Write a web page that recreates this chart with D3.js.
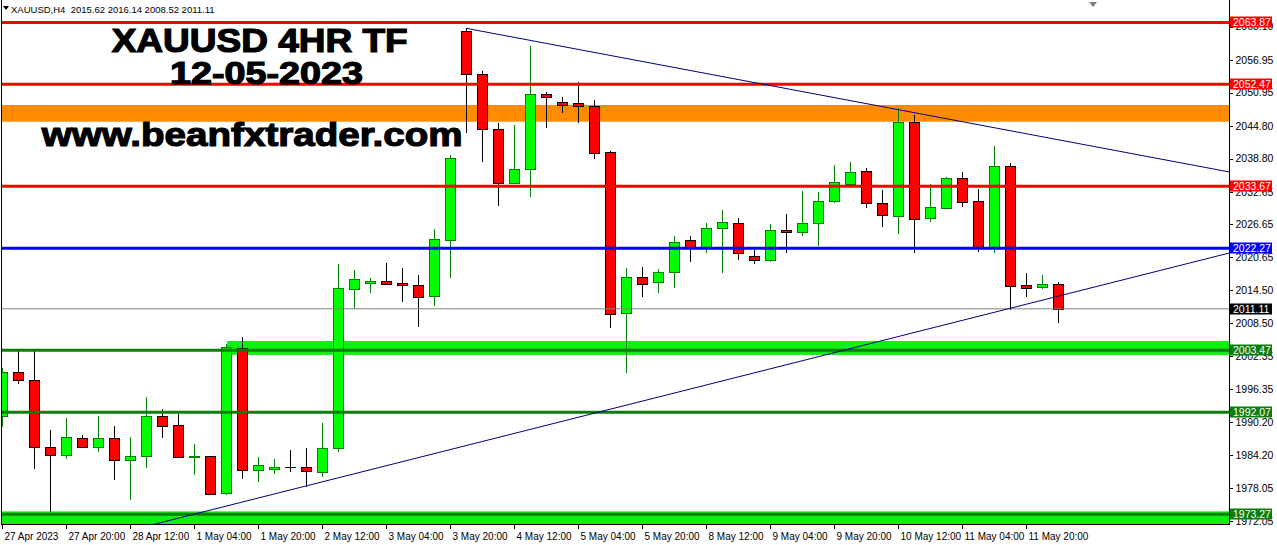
<!DOCTYPE html>
<html><head><meta charset="utf-8">
<script src="https://cdn.jsdelivr.net/npm/d3@7"></script>
<style>html,body{margin:0;padding:0;background:#fff;overflow:hidden}</style>
</head><body>
<svg id="c" width="1277" height="545"></svg>
<script>
// ---- data ----
const symbolHeader = "XAUUSD,H4  2015.62 2016.14 2008.52 2011.11";
const opens  = [1991.36,1999.41,1997.94,1985.59,1984.12,1987.25,1985.59,1987.25,1983.20,1983.94,
                1991.31,1989.65,1983.75,1983.94,1977.12,2003.83,1981.36,1981.54,1981.91,1981.91,
                1981.04,1985.46,2014.81,2015.92,2016.18,2015.86,2015.49,2013.52,2023.78,2062.29,
                2054.31,2044.18,2034.34,2036.81,2050.68,2049.21,2048.97,2048.47,2039.94,2010.28,
                2016.91,2015.99,2017.83,2023.73,2022.55,2025.94,2026.86,2020.78,2020.05,2025.57,
                2025.20,2026.86,2030.91,2034.05,2036.44,2030.55,2028.26,2045.47,2027.78,2029.63,
                2035.15,2030.91,2022.55,2037.36,2015.44,2015.07,2015.62];
const highs  = [2000.20,2003.34,2003.52,1988.78,1990.94,1987.86,1991.31,1989.46,1987.44,1994.81,
                1992.59,1991.67,1986.15,1983.99,2004.62,2005.91,1983.75,1983.38,1985.10,1985.46,
                1990.07,2019.36,2018.26,2016.73,2019.49,2018.63,2017.39,2025.81,2039.44,2062.79,
                2054.92,2045.28,2044.97,2059.53,2051.11,2050.18,2052.95,2049.58,2040.18,2018.57,
                2018.87,2018.44,2024.52,2024.58,2026.86,2029.31,2027.78,2021.94,2026.68,2028.57,
                2032.81,2032.57,2037.60,2038.15,2036.99,2033.00,2048.05,2046.81,2034.05,2035.34,
                2036.37,2033.18,2041.10,2038.03,2017.65,2017.34,2016.14];
const lows   = [1989.33,1997.20,1981.54,1973.73,1983.38,1985.41,1984.67,1979.52,1975.83,1981.73,
                1987.25,1983.57,1980.44,1976.94,1976.75,1979.70,1979.15,1980.62,1980.99,1978.23,
                1980.12,1984.73,2011.02,2013.97,2015.55,2012.42,2007.81,2011.68,2016.73,2043.44,
                2038.21,2030.10,2034.23,2031.76,2044.36,2047.24,2045.28,2038.65,2007.52,1999.23,
                2013.34,2013.97,2014.89,2019.79,2021.33,2017.65,2020.10,2019.36,2019.68,2021.33,
                2024.58,2022.73,2030.55,2033.92,2029.63,2026.12,2024.84,2021.33,2027.16,2029.63,
                2029.92,2021.63,2021.45,2010.89,2013.23,2014.76,2008.52];
const closes = [1999.41,1997.94,1985.59,1984.12,1987.44,1985.59,1987.25,1983.20,1983.94,1991.31,
                1989.46,1983.75,1983.94,1977.05,2004.07,1981.36,1982.28,1981.91,1981.91,1981.17,
                1985.41,2014.89,2016.55,2016.23,2015.73,2015.44,2013.34,2023.97,2038.84,2054.31,
                2044.18,2034.34,2036.81,2050.63,2050.18,2048.71,2048.42,2039.76,2010.10,2016.91,
                2015.62,2017.83,2023.47,2022.49,2025.94,2027.05,2021.33,2020.05,2025.57,2025.20,
                2026.86,2030.91,2034.41,2036.31,2030.55,2028.34,2045.47,2027.60,2029.81,2035.15,
                2030.84,2022.55,2037.36,2015.37,2014.89,2015.62,2011.11];

const xTickIdx    = [0,4,8,12,16,20,24,28,32,36,40,44,48,52,56,60,64];
const xTickLabels = ["27 Apr 2023","27 Apr 20:00","28 Apr 12:00","1 May 04:00","1 May 20:00",
                     "2 May 12:00","3 May 04:00","3 May 20:00","4 May 12:00","5 May 04:00",
                     "5 May 20:00","8 May 12:00","9 May 04:00","9 May 20:00","10 May 12:00",
                     "11 May 04:00","11 May 20:00"];
const yTickValues = [2063.10,2056.95,2050.95,2044.80,2038.80,2032.65,2026.65,2020.65,2014.50,
                     2008.50,2002.35,1996.35,1990.20,1984.20,1978.05,1972.05];

const redLevels   = [2063.87, 2052.47, 2033.67];
const blueLevels  = [2022.27];
const greenLevels = [2003.47, 1992.07, 1973.27];
const lastPrice   = 2011.11;
const orangeZone  = [2045.58, 2048.66];
const greenZones  = [{from:14, lo:2002.62, hi:2005.18}, {from:-1, lo:1971.40, hi:1973.80}];
const trendDown   = {i1:29, p1:2062.79, i2:56, p2:2047.81};
const trendUp     = {i1:20, p1:1979.22, i2:63, p2:2011.20};
const titleLines  = ["XAUUSD 4HR TF","12-05-2023","www.beanfxtrader.com"];

// ---- layout ----
const R = 1229, B = 524;
const x = d3.scaleLinear().domain([-0.125, 76.6875]).range([0, R]);
const y = d3.scaleLinear().domain([1971.47, 2068.0]).range([B, 0]);
const svg = d3.select('#c');
const FONT = "'Liberation Sans', Arial, sans-serif";

svg.append('defs').append('clipPath').attr('id','clip')
  .append('rect').attr('x',1).attr('y',0).attr('width',R-1).attr('height',B);

const plot = svg.append('g').attr('clip-path','url(#clip)');

// zones (behind candles)
plot.append('rect').attr('x',x(-1)).attr('width',R-x(-1)+2)
  .attr('y',y(orangeZone[1])).attr('height',y(orangeZone[0])-y(orangeZone[1]))
  .attr('fill','#ff8c00');
plot.selectAll('rect.gz').data(greenZones).join('rect').attr('class','gz')
  .attr('x',d=>Math.max(0,x(d.from)+1)).attr('width',d=>R-Math.max(0,x(d.from)+1)+2)
  .attr('y',d=>y(d.hi)).attr('height',d=>y(d.lo)-y(d.hi)).attr('fill','#10f010');

// candles
const idx = d3.range(opens.length);
const cg = plot.append('g').attr('shape-rendering','crispEdges');
const isUp = i => closes[i] > opens[i];
const isFlat = i => closes[i] === opens[i];
cg.selectAll('line.w').data(idx).join('line').attr('class','w')
  .attr('x1',i=>Math.round(x(i))+0.5).attr('x2',i=>Math.round(x(i))+0.5)
  .attr('y1',i=>y(highs[i])).attr('y2',i=>y(lows[i]))
  .attr('stroke',i=>isUp(i)?'#008000':'#000').attr('stroke-width',1);
cg.selectAll('rect.b').data(idx.filter(i=>!isFlat(i))).join('rect').attr('class','b')
  .attr('x',i=>Math.round(x(i))-4.5).attr('width',10)
  .attr('y',i=>Math.round(y(Math.max(opens[i],closes[i])))+0.5)
  .attr('height',i=>Math.max(1,Math.round(y(Math.min(opens[i],closes[i])))-Math.round(y(Math.max(opens[i],closes[i])))))
  .attr('fill',i=>isUp(i)?'#00ff00':'#ff0000')
  .attr('stroke',i=>isUp(i)?'#008000':'#000').attr('stroke-width',1);
cg.selectAll('line.d').data(idx.filter(isFlat)).join('line').attr('class','d')
  .attr('x1',i=>Math.round(x(i))-5).attr('x2',i=>Math.round(x(i))+6)
  .attr('y1',i=>Math.round(y(opens[i]))+0.5).attr('y2',i=>Math.round(y(opens[i]))+0.5)
  .attr('stroke','#000').attr('stroke-width',1);

// horizontal levels
function hline(p, color, w){
  plot.append('line').attr('x1',0).attr('x2',R).attr('y1',y(p)).attr('y2',y(p))
    .attr('stroke',color).attr('stroke-width',w);
}
hline(lastPrice,'#808080',1);
redLevels.forEach(p=>hline(p,'#ff0000',3));
blueLevels.forEach(p=>hline(p,'#0000ff',3));
greenLevels.forEach(p=>hline(p,'#0b7d0b',3));

// trend lines
function tl(t,i){ return t.p1 + (t.p2-t.p1)*(i-t.i1)/(t.i2-t.i1); }
const xEnd = 76.6875;
plot.append('line').attr('x1',x(trendDown.i1)).attr('y1',y(trendDown.p1))
  .attr('x2',x(xEnd)).attr('y2',y(tl(trendDown,xEnd)))
  .attr('stroke','#000080').attr('stroke-width',1);
plot.append('line').attr('x1',x(-0.125)).attr('y1',y(tl(trendUp,-0.125)))
  .attr('x2',x(xEnd)).attr('y2',y(tl(trendUp,xEnd)))
  .attr('stroke','#000080').attr('stroke-width',1);

// frame
const fr = svg.append('g').attr('shape-rendering','crispEdges');
fr.append('line').attr('x1',1.5).attr('x2',1.5).attr('y1',0).attr('y2',B+0.5).attr('stroke','#000');
fr.append('line').attr('x1',R+0.5).attr('x2',R+0.5).attr('y1',0).attr('y2',B+0.5).attr('stroke','#000');
fr.append('line').attr('x1',1).attr('x2',R+1).attr('y1',B+0.5).attr('y2',B+0.5).attr('stroke','#000');

// right axis
const ya = svg.append('g').attr('transform',`translate(${R+0.5},0)`)
  .call(d3.axisRight(y).tickValues(yTickValues).tickFormat(d3.format('.2f')).tickSize(3).tickPadding(3));
ya.select('.domain').remove();
ya.selectAll('line').attr('stroke','#000').attr('shape-rendering','crispEdges');
ya.selectAll('text').attr('font-family',FONT).attr('font-size','10.5px').attr('fill','#000');

// bottom axis
const xa = svg.append('g').attr('transform',`translate(0,${B+0.5})`)
  .call(d3.axisBottom(x).tickValues(xTickIdx).tickFormat((d,k)=>xTickLabels[k]).tickSize(4).tickPadding(4));
xa.select('.domain').remove();
xa.selectAll('line').attr('stroke','#000').attr('shape-rendering','crispEdges');
xa.selectAll('text').attr('font-family',FONT).attr('font-size','10px').attr('fill','#000')
  .attr('text-anchor','start').attr('dx','2px');

// price labels on axis
function tag(p, bg){
  const g = svg.append('g');
  g.append('rect').attr('x',R+1).attr('y',Math.round(y(p))-5.5).attr('width',42).attr('height',11).attr('fill',bg);
  g.append('text').attr('x',R+4).attr('y',y(p)).attr('dy','0.36em').attr('fill','#fff')
    .attr('font-family',FONT).attr('font-size','10.5px').text(d3.format('.2f')(p));
}
redLevels.forEach(p=>tag(p,'#ff0000'));
blueLevels.forEach(p=>tag(p,'#0000ff'));
tag(lastPrice,'#000');
greenLevels.forEach(p=>tag(p,'#0b7d0b'));

// header
svg.append('path').attr('d','M3,6 L9,6 L6,10 Z').attr('fill','#000');
svg.append('text').attr('x',11).attr('y',13).attr('font-family',FONT).attr('font-size','9.5px')
  .attr('fill','#000').attr('xml:space','preserve').style('white-space','pre').text(symbolHeader);
svg.append('path').attr('d','M1089,2 L1097,2 L1093,7 Z').attr('fill','#808080');

// titles
const tdef = [{x:111.7,y:51.7,fs:33,len:296},{x:170,y:84,fs:31.5,len:193},{x:41.7,y:146,fs:34,len:421}];
titleLines.forEach((t,k)=>{
  svg.append('text').attr('x',tdef[k].x).attr('y',tdef[k].y)
    .attr('font-family',"'Liberation Sans', Arial, sans-serif").attr('font-weight','bold')
    .attr('font-size',tdef[k].fs+'px').attr('fill','#000').attr('stroke','#000').attr('stroke-width',1.2)
    .attr('textLength',tdef[k].len).attr('lengthAdjust','spacingAndGlyphs').text(t);
});
</script>
</body></html>
